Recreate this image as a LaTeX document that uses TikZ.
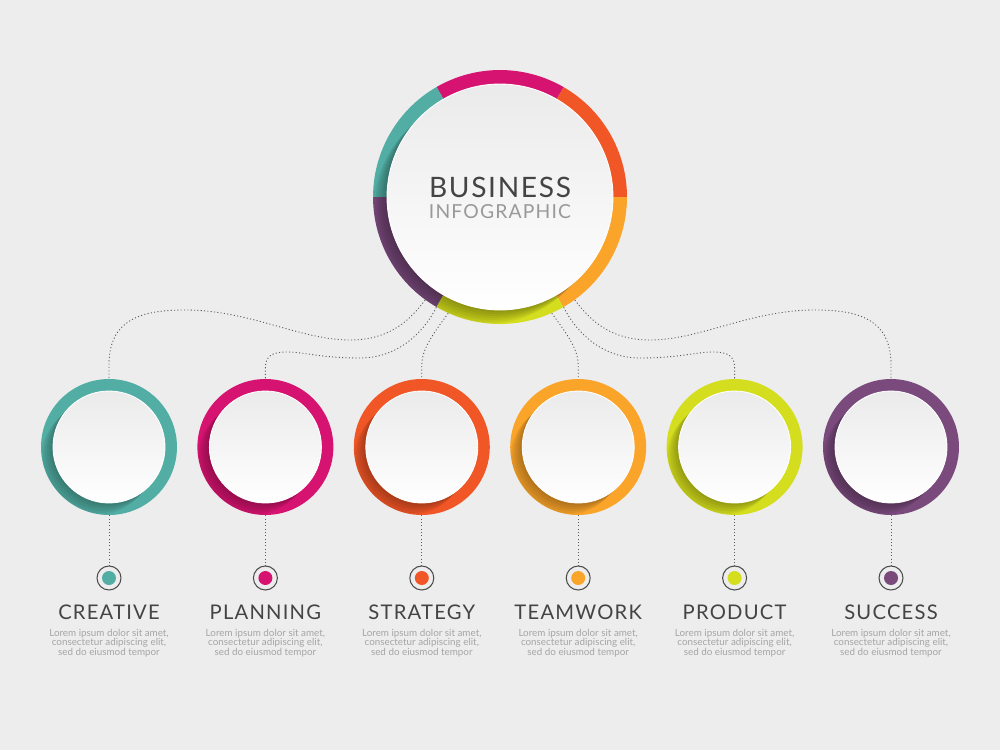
\documentclass[tikz,border=0pt]{standalone}
\usepackage{fontspec}
\setmainfont{Lato}
\newfontfamily\capsfont[LetterSpace=6]{Lato}
\usetikzlibrary{positioning}
\definecolor{bgc}{RGB}{237,237,237}
\definecolor{cteal}{RGB}{82,174,164}
\definecolor{cmag}{RGB}{214,19,112}
\definecolor{cred}{RGB}{241,86,38}
\definecolor{corange}{RGB}{250,164,42}
\definecolor{clime}{RGB}{212,222,30}
\definecolor{cpurple}{RGB}{122,74,125}
\definecolor{ink}{RGB}{68,68,68}
\definecolor{lorem}{RGB}{165,165,165}
\tikzset{
  ring/.style={circle, inner sep=0pt, minimum size=2.72cm},
  disc/.style={circle, inner sep=0pt, minimum size=2.24cm, top color=black!8, bottom color=white, draw=white, line width=0.5pt},
  link/.style={draw=black!65, line width=0.5pt, dash pattern=on 0.6pt off 1.3pt},
  marker/.style={circle, draw=black!70, line width=0.6pt, inner sep=0pt, minimum size=0.48cm},
  title/.style={font=\capsfont\fontsize{11.5}{12}\selectfont, text=ink},
  lorem/.style={font=\fontsize{5.6}{5.4}\selectfont, text=lorem, align=center}
}

\begin{document}
\begin{tikzpicture}[x=0.02cm, y=-0.02cm]
            \fill[bgc] (0,0) rectangle (1000,750);
            \useasboundingbox (0,0) rectangle (1000,750);

            % Central hub with six coloured sectors
            \node[circle, inner sep=0pt, minimum size=5.08cm] (hub) at (500,197) {};
            \foreach \a/\col in {0/cred,60/cmag,120/cteal,180/cpurple,240/clime,300/corange}
                \fill[\col] (hub.center) -- ++(\a:2.54cm) arc[start angle=\a, delta angle=60, radius=2.54cm] -- cycle;
            \begin{scope}
                \clip (hub.center) circle (2.54cm);
                \foreach \k in {2,4,...,14}
                    \fill[black, opacity=0.05] ([shift={(-\k,\k)}]hub.center) circle (2.26cm);
            \end{scope}
            \node[disc, minimum size=4.52cm] (hubdisc) at (hub) {};
            \node[font=\capsfont\fontsize{16}{16}\selectfont, text=ink] (hubtitle) at (500,187) {BUSINESS};
            \node[font=\capsfont\fontsize{11}{11}\selectfont, text=black!40] (hubsub) at (500,212) {INFOGRAPHIC};

            % Six steps
            \foreach \i/\col/\name in {1/cteal/CREATIVE, 2/cmag/PLANNING, 3/cred/STRATEGY, 4/corange/TEAMWORK, 5/clime/PRODUCT, 6/cpurple/SUCCESS}{
                \pgfmathsetmacro\cx{109+156.4*(\i-1)}
                \node[ring, fill=\col] (c\i) at (\cx,447) {};
                \begin{scope}
                    \clip (c\i.center) circle (1.36cm);
                    \foreach \k in {2,4,...,12}
                        \fill[black, opacity=0.05] ([shift={(-\k,\k)}]c\i.center) circle (1.12cm);
                \end{scope}
                \node[disc] (w\i) at (c\i) {};
                \node[marker] (m\i) at (\cx,578) {};
                \fill[\col] (m\i.center) circle (0.14cm);
                \draw[link] (c\i.south) -- (m\i.north);
                \node[title] (t\i) at (\cx,612) {\name};
                \node[lorem] (d\i) at (\cx,643) {Lorem ipsum dolor sit amet,\\consectetur adipiscing elit,\\sed do eiusmod tempor};
            }

            % Dotted links from the hub
            \draw[link] (hub.-126) .. controls (410,320) and (390,340) .. (350,340) .. controls (300,340) and (250,310) .. (185,310) .. controls (140,310) and (109,320) .. (109,365) -- (c1.north);
            \draw[link] (hub.-120) .. controls (425,330) and (400,358) .. (360,358) .. controls (320,358) and (305,352) .. (287,352) .. controls (272,352) and (265.4,356) .. (265.4,368) -- (c2.north);
            \draw[link] (hub.-114) .. controls (432,335) and (421.8,350) .. (421.8,365) -- (c3.north);
            \draw[link] (hub.-66) .. controls (568,335) and (578.2,350) .. (578.2,365) -- (c4.north);
            \draw[link] (hub.-60) .. controls (575,330) and (600,358) .. (640,358) .. controls (680,358) and (695,352) .. (713,352) .. controls (728,352) and (734.6,356) .. (734.6,368) -- (c5.north);
            \draw[link] (hub.-54) .. controls (590,320) and (610,340) .. (650,340) .. controls (700,340) and (750,310) .. (815,310) .. controls (860,310) and (891,320) .. (891,365) -- (c6.north);
        \end{tikzpicture}
\end{document}
